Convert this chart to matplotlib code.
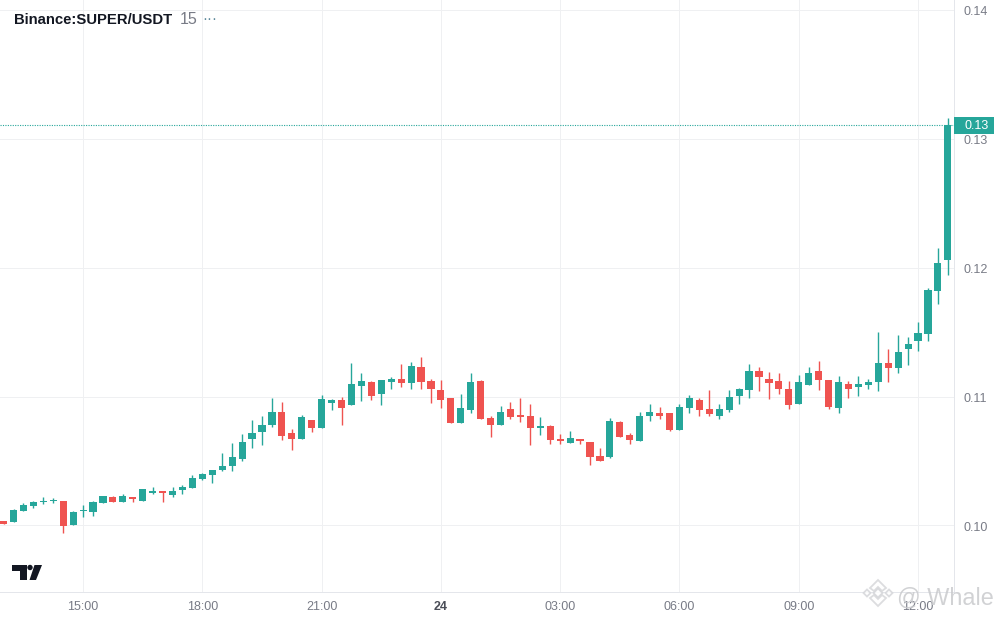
import matplotlib
matplotlib.use('Agg')
import matplotlib.pyplot as plt
from matplotlib.patches import Polygon, Circle, Rectangle
from matplotlib.transforms import Affine2D, ScaledTranslation

plt.rcParams['font.family'] = ['Liberation Sans', 'DejaVu Sans']

# 15 minute candles
opens = [0.10035, 0.10027, 0.10112, 0.10151, 0.10182, 0.10190, 0.10190, 0.10004, 0.10112, 0.10105,
         0.10175, 0.10221, 0.10182, 0.10221, 0.10190, 0.10252, 0.10268, 0.10237, 0.10275, 0.10291,
         0.10361, 0.10392, 0.10431, 0.10462, 0.10516, 0.10671, 0.10725, 0.10780, 0.10881, 0.10718,
         0.10671, 0.10818, 0.10756, 0.10950, 0.10974, 0.10935, 0.11082, 0.11113, 0.11020, 0.11113,
         0.11137, 0.11105, 0.11230, 0.11121, 0.11051, 0.10989, 0.10795, 0.10896, 0.11121, 0.10834,
         0.10780, 0.10904, 0.10857, 0.10849, 0.10756, 0.10772, 0.10671, 0.10640, 0.10671, 0.10648,
         0.10539, 0.10531, 0.10803, 0.10702, 0.10656, 0.10849, 0.10873, 0.10873, 0.10741, 0.10912,
         0.10974, 0.10904, 0.10849, 0.10896, 0.11005, 0.11051, 0.11199, 0.11137, 0.11121, 0.11059,
         0.10943, 0.11090, 0.11199, 0.11129, 0.10912, 0.11098, 0.11074, 0.11090, 0.11113, 0.11261,
         0.11222, 0.11369, 0.11431, 0.11486, 0.11819, 0.12060]
highs = [0.10035, 0.10128, 0.10175, 0.10190, 0.10221, 0.10217, 0.10190, 0.10112, 0.10159, 0.10190,
         0.10229, 0.10229, 0.10244, 0.10221, 0.10283, 0.10299, 0.10268, 0.10299, 0.10314, 0.10392,
         0.10407, 0.10431, 0.10562, 0.10640, 0.10710, 0.10818, 0.10849, 0.10989, 0.10958, 0.10749,
         0.10857, 0.10818, 0.11012, 0.10981, 0.10997, 0.11261, 0.11183, 0.11121, 0.11129, 0.11152,
         0.11253, 0.11268, 0.11307, 0.11137, 0.11129, 0.10989, 0.11020, 0.11183, 0.11129, 0.10849,
         0.10927, 0.10958, 0.10989, 0.10943, 0.10842, 0.10780, 0.10710, 0.10733, 0.10671, 0.10648,
         0.10601, 0.10834, 0.10811, 0.10718, 0.10881, 0.10943, 0.10919, 0.10873, 0.10943, 0.11012,
         0.10989, 0.11051, 0.10943, 0.11051, 0.11067, 0.11253, 0.11230, 0.11191, 0.11183, 0.11121,
         0.11168, 0.11230, 0.11276, 0.11129, 0.11160, 0.11121, 0.11160, 0.11137, 0.11501, 0.11369,
         0.11478, 0.11462, 0.11579, 0.11842, 0.12153, 0.13161]
lows = [0.10012, 0.10027, 0.10112, 0.10136, 0.10167, 0.10175, 0.09942, 0.10004, 0.10066, 0.10074,
        0.10175, 0.10182, 0.10182, 0.10182, 0.10190, 0.10244, 0.10182, 0.10221, 0.10244, 0.10291,
        0.10353, 0.10330, 0.10423, 0.10423, 0.10500, 0.10601, 0.10625, 0.10764, 0.10663, 0.10586,
        0.10671, 0.10725, 0.10756, 0.10896, 0.10780, 0.10935, 0.10966, 0.10974, 0.10935, 0.11059,
        0.11074, 0.11059, 0.11059, 0.10950, 0.10912, 0.10795, 0.10795, 0.10873, 0.10826, 0.10687,
        0.10780, 0.10826, 0.10803, 0.10625, 0.10702, 0.10632, 0.10632, 0.10640, 0.10632, 0.10469,
        0.10500, 0.10524, 0.10687, 0.10632, 0.10656, 0.10811, 0.10826, 0.10733, 0.10741, 0.10873,
        0.10849, 0.10849, 0.10826, 0.10881, 0.10943, 0.10989, 0.11043, 0.10981, 0.11020, 0.10904,
        0.10943, 0.11090, 0.11051, 0.10904, 0.10873, 0.10989, 0.11005, 0.11059, 0.11043, 0.11113,
        0.11183, 0.11245, 0.11354, 0.11431, 0.11718, 0.11943]
closes = [0.10012, 0.10120, 0.10159, 0.10182, 0.10190, 0.10198, 0.09996, 0.10105, 0.10120, 0.10182,
          0.10229, 0.10182, 0.10229, 0.10206, 0.10283, 0.10268, 0.10252, 0.10268, 0.10299, 0.10369,
          0.10400, 0.10431, 0.10462, 0.10531, 0.10648, 0.10718, 0.10780, 0.10881, 0.10694, 0.10671,
          0.10842, 0.10756, 0.10981, 0.10974, 0.10912, 0.11098, 0.11121, 0.11005, 0.11129, 0.11137,
          0.11105, 0.11237, 0.11113, 0.11059, 0.10974, 0.10795, 0.10912, 0.11113, 0.10826, 0.10780,
          0.10881, 0.10842, 0.10842, 0.10756, 0.10772, 0.10663, 0.10656, 0.10679, 0.10656, 0.10531,
          0.10500, 0.10811, 0.10687, 0.10663, 0.10849, 0.10881, 0.10849, 0.10741, 0.10919, 0.10989,
          0.10896, 0.10865, 0.10904, 0.10997, 0.11059, 0.11199, 0.11152, 0.11105, 0.11059, 0.10935,
          0.11113, 0.11183, 0.11129, 0.10919, 0.11113, 0.11059, 0.11098, 0.11113, 0.11261, 0.11222,
          0.11346, 0.11408, 0.11493, 0.11827, 0.12036, 0.13107]

time_ticks = [8, 20, 32, 44, 56, 68, 80, 92]
time_labels = ['15:00', '18:00', '21:00', '24', '03:00', '06:00', '09:00', '12:00']
price_ticks = [0.10, 0.11, 0.12, 0.13, 0.14]
price_labels = ['0.10', '0.11', '0.12', '0.13', '0.14']

GREEN = '#26a69a'
RED = '#ef5350'
GRID = '#eff0f2'
AXIS = '#e4e6eb'
TEXT = '#787b86'
DARK = '#131722'

fig = plt.figure(figsize=(10, 6.2), dpi=100, facecolor='white')
ax = fig.add_axes([0, 28 / 620, 0.954, 592 / 620])
px = Affine2D().scale(1, -1).translate(0, 620)  # pixel coords for logo and watermark

# candles
xs = list(range(len(opens)))
colors = [GREEN if c >= o else RED for o, c in zip(opens, closes)]
ax.vlines(xs, lows, highs, colors=colors, linewidth=1, zorder=3)
ax.bar(xs, [abs(c - o) for o, c in zip(opens, closes)], bottom=[min(o, c) for o, c in zip(opens, closes)],
       width=0.72, color=colors, linewidth=0, zorder=4)

ax.set_xlim(-0.36, 95.62)
ax.set_ylim(0.09484, 0.14077)
ax.set_xticks(time_ticks, time_labels)
ax.set_yticks(price_ticks, price_labels)
ax.yaxis.tick_right()
ax.tick_params(axis='x', length=0, pad=6.5, labelsize=9, labelcolor=TEXT)
ax.tick_params(axis='y', length=0, pad=7, labelsize=9, labelcolor=TEXT)
ax.grid(True, color=GRID, linewidth=0.72)
ax.set_axisbelow(True)
for side in ['top', 'left']:
    ax.spines[side].set_visible(False)
for side in ['right', 'bottom']:
    ax.spines[side].set_color(AXIS)
    ax.spines[side].set_linewidth(0.72)

# y labels sit a pixel lower in the original
down = ScaledTranslation(0, -1 / 100, fig.dpi_scale_trans)
for label in ax.get_yticklabels():
    label.set_transform(label.get_transform() + down)

bold = ax.get_xticklabels()[3]
bold.set_fontweight('bold')
bold.set_color('#4a4d57')

# last price line and tag
last = closes[-1]
ax.axhline(last, color=GREEN, linewidth=0.8, linestyle=(0, (1, 1.2)), zorder=2)
ax.add_patch(Rectangle((1, last - 8.5 / 12890), 40 / 954, 17 / 12890, transform=ax.get_yaxis_transform(),
                       facecolor=GREEN, edgecolor='none', clip_on=False, zorder=5))
ax.text(1 + 10 / 954, last - 1 / 12890, '0.13', transform=ax.get_yaxis_transform(), color='white', fontsize=9,
        va='center', ha='left', zorder=6)

# header
fig.text(14 / 1000, 1 - 20 / 620, 'Binance:SUPER/USDT', fontsize=10.75, fontweight='bold', color=DARK, va='center')
fig.text(180 / 1000, 1 - 20 / 620, '15', fontsize=11.5, color=TEXT, va='center')
fig.text(202 / 1000, 1 - 19 / 620, '\u00b7\u00b7\u00b7', fontsize=11, color='#5f8a9c', va='center')

# TradingView logo
fig.add_artist(Polygon([(12, 565), (27, 565), (27, 580), (20, 580), (20, 571), (12, 571)],
                       transform=px, facecolor=DARK, edgecolor='none'))
fig.add_artist(Circle((30, 567.5), 2.7, transform=px, facecolor=DARK, edgecolor='none'))
fig.add_artist(Polygon([(34.5, 565), (42, 565), (36, 580), (29.5, 580)],
                       transform=px, facecolor=DARK, edgecolor='none'))

# watermark
WM = '#d6d7da'
for cx, cy, r in [(878, 593, 4.5), (867, 593, 3.5), (889, 593, 3.5)]:
    fig.add_artist(Polygon([(cx - r, cy), (cx, cy - r), (cx + r, cy), (cx, cy + r)], transform=px,
                           facecolor='white', edgecolor=WM, linewidth=1.3, alpha=0.85))
fig.add_artist(Polygon([(878, 580), (886, 588), (882, 591), (878, 587), (874, 591), (870, 588)], transform=px,
                       facecolor='white', edgecolor=WM, linewidth=1.3, alpha=0.85))
fig.add_artist(Polygon([(878, 606), (886, 598), (882, 595), (878, 599), (874, 595), (870, 598)], transform=px,
                       facecolor='white', edgecolor=WM, linewidth=1.3, alpha=0.85))
fig.text(897 / 1000, 1 - 604 / 620, '@ Whale', fontsize=16.8, color='#c9cacd', alpha=0.85, va='baseline', zorder=10)

fig.savefig('out.png', dpi=100)
